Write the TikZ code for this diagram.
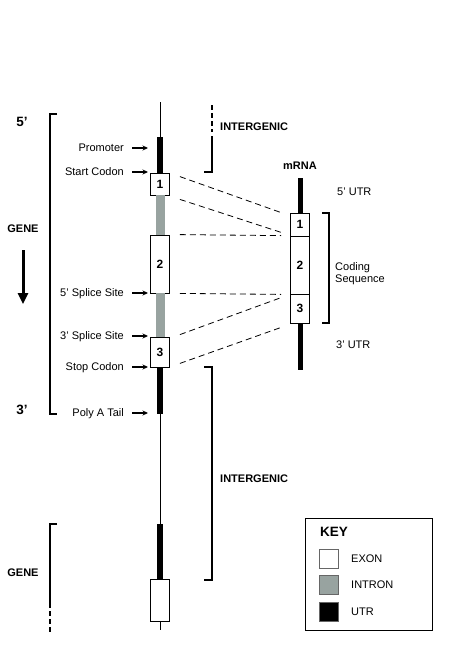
\documentclass[tikz,border=0pt]{standalone}
\usepackage{fontspec}
\setmainfont{Liberation Sans}
\usetikzlibrary{arrows.meta}
\definecolor{introngray}{RGB}{152,163,160}

\begin{document}
\begin{tikzpicture}[x=1pt, y=-1pt, font=\fontsize{11}{12}\selectfont,
    exon/.style={draw, line width=0.8pt, fill=white, minimum width=19pt, inner sep=0pt,
        font=\bfseries\fontsize{12}{12}\selectfont},
    intron/.style={line width=9pt, introngray},
    utr/.style={line width=6pt, black},
    strand/.style={line width=0.8pt},
    lbl/.style={inner sep=0pt, anchor=east, text height=8pt, text depth=2pt},
    pointer/.style={-{Stealth[length=5.5pt,width=5pt]}, line width=1.1pt,
        shorten <=8pt, shorten >=12pt},
    mapline/.style={line width=0.8pt, dash pattern=on 6pt off 4pt},
    bracket/.style={line width=1.3pt},
    tag/.style={font=\bfseries\fontsize{11}{12}\selectfont, inner sep=0pt},
    bigtag/.style={font=\bfseries\fontsize{13.5}{14}\selectfont, inner sep=0pt},
    swatch/.style={draw=black!60, line width=0.6pt, minimum size=19pt, inner sep=0pt}]
    \useasboundingbox (0,0) rectangle (474,670);
    % Gene strand
    \coordinate (g top) at (160,102);
    \coordinate (g prom) at (160,137);
    \node[exon, minimum height=22pt] (e1) at (160,184) {1};
    \node[exon, minimum height=58pt] (e2) at (160,264) {2};
    \node[exon, minimum height=30pt] (e3) at (160,352) {3};
    \coordinate (g poly) at (160,414);
    \coordinate (g prom2) at (160,524);
    \node[exon, minimum height=42pt] (e4) at (160,600) {};
    \coordinate (g end) at (160,630);
    \draw[strand] (g top) -- (g prom);
    \draw[utr] (g prom) -- (e1.north);
    \draw[intron] (e1.south) -- (e2.north);
    \draw[intron] (e2.south) -- (e3.north);
    \draw[utr] (e3.south) -- (g poly);
    \draw[strand] (g poly) -- (g prom2);
    \draw[utr] (g prom2) -- (e4.north);
    \draw[strand] (e4.south) -- (g end);
    % Labels and pointers
    \node[lbl] (promoter) at (124,148) {Promoter};
    \node[lbl] (start) at (124,172) {Start Codon};
    \node[lbl] (splice5) at (124,293) {5' Splice Site};
    \node[lbl] (splice3) at (124,336) {3' Splice Site};
    \node[lbl] (stop) at (124,367) {Stop Codon};
    \node[lbl] (polya) at (124,413) {Poly A Tail};
    \foreach \l in {promoter,start,splice5,splice3,stop,polya}
        \draw[pointer] (\l.east) -- (\l.east -| e1);
    % Gene brackets
    \draw[bracket] (57,114) -- (50,114) -- (50,414) -- (57,414);
    \node[bigtag] (five) at (22,122) {5'};
    \node[bigtag] (three) at (22,410) {3'};
    \node[tag] (gene) at (23,229) {GENE};
    \draw[-{Triangle[length=11pt,width=10pt]}, line width=3pt] ([yshift=-17pt]gene.south) -- ++(0,54);
    \draw[bracket] (57,524) -- (50,524) -- (50,608);
    \draw[bracket, dash pattern=on 5pt off 3pt] (50,611) -- (50,632);
    \node[tag] (gene2) at (23,573) {GENE};
    % Intergenic brackets
    \draw[bracket, dash pattern=on 4.5pt off 3.5pt] (212,105) -- (212,132);
    \draw[bracket] (212,136) -- (212,172) -- (204,172);
    \node[tag, anchor=west] (inter1) at (220,127) {INTERGENIC};
    \draw[bracket] (204,367) -- (212,367) -- (212,580) -- (204,580);
    \node[tag, anchor=west] (inter2) at (220,479) {INTERGENIC};
    % mRNA
    \node[tag] (mrna) at (300,166) {mRNA};
    \coordinate (m top) at (300,178);
    \node[exon, minimum height=23pt] (m1) at (300,224.5) {1};
    \node[exon, minimum height=58pt] (m2) at (300,265) {2};
    \node[exon, minimum height=29pt] (m3) at (300,308.5) {3};
    \coordinate (m end) at (300,370);
    \draw[utr, line width=5pt] (m top) -- (m1.north);
    \draw[utr, line width=5pt] (m3.south) -- (m end);
    \draw[bracket] (322,213) -- (329,213) -- (329,323) -- (322,323);
    \node[anchor=west, align=left, inner sep=0pt] (coding) at (335,274) {Coding\\Sequence};
    \node[anchor=west, inner sep=0pt] (utr5) at (337,192) {5' UTR};
    \node[anchor=west, inner sep=0pt] (utr3) at (336,345) {3' UTR};
    % Exon mapping
    \draw[mapline] ([xshift=10pt,yshift=-4pt]e1.north east) -- ([xshift=-9pt]m1.north west);
    \draw[mapline] ([xshift=10pt,yshift=-4pt]e1.south east) -- ([xshift=-9pt,yshift=4pt]m1.south west);
    \draw[mapline] ([xshift=10pt]e2.north east) -- ([xshift=-9pt]m2.north west);
    \draw[mapline] ([xshift=10pt]e2.south east) -- ([xshift=-9pt]m2.south west);
    \draw[mapline] ([xshift=10pt,yshift=2pt]e3.north east) -- ([xshift=-9pt,yshift=-4pt]m3.north west);
    \draw[mapline] ([xshift=10pt,yshift=4pt]e3.south east) -- ([xshift=-9pt,yshift=-4pt]m3.south west);
    % Key
    \node[draw, line width=0.8pt, minimum width=127pt, minimum height=112pt, inner sep=0pt] (key) at (368.5,574) {};
    \node[bigtag, anchor=west] (keytitle) at (320,532) {KEY};
    \foreach \name/\col/\y in {EXON/white/558.5, INTRON/introngray/585, UTR/black/611.5} {
        \node[swatch, fill=\col] (sw\name) at (328.5,\y) {};
        \node[anchor=west, inner sep=0pt] (kl\name) at (351,\y) {\name};
    }
\end{tikzpicture}
\end{document}
